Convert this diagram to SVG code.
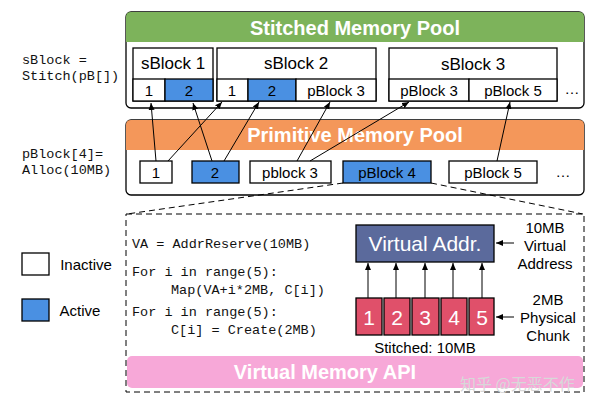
<svg xmlns="http://www.w3.org/2000/svg" width="602" height="409" viewBox="0 0 602 409">
<style>
.s{font-family:"Liberation Sans",Arial,sans-serif;font-size:15px;fill:#000;text-anchor:middle}
.big{font-size:17px}
.m{font-family:"Liberation Mono","Courier New",monospace;font-size:13.5px;fill:#111}
.h{font-family:"Liberation Sans",Arial,sans-serif;font-size:20px;font-weight:bold;fill:#fff;text-anchor:middle}
.w{fill:#fff;stroke:#000;stroke-width:1.3}
.b{fill:#4a90e2;stroke:#000;stroke-width:1.3}
.r{fill:#e0506a;stroke:#000;stroke-width:1.3}
.c{stroke:#000;stroke-width:1;fill:none;marker-end:url(#a)}
.n{font-family:"Liberation Sans",Arial,sans-serif;font-size:21px;fill:#fff;text-anchor:middle}
</style>
<defs><marker id="a" markerWidth="8" markerHeight="8" refX="7" refY="4" orient="auto" markerUnits="userSpaceOnUse"><path d="M0,1 L7,4 L0,7z" fill="#000"/></marker></defs>
<rect width="602" height="409" fill="#fff"/>
<g id="labels">
<text class="m" x="22" y="64">sBlock =</text>
<text class="m" x="22" y="80">Stitch(pB[])</text>
<text class="m" x="22" y="158">pBlock[4]=</text>
<text class="m" x="22" y="174">Alloc(10MB)</text>
</g>
<g id="legend">
<rect class="w" x="22" y="253" width="27" height="22"/>
<text class="s" x="86" y="270">Inactive</text>
<rect class="b" x="22" y="299" width="27" height="22"/>
<text class="s" x="80" y="316">Active</text>
</g>
<g id="stitched-pool">
<rect x="126" y="12" width="458" height="96" rx="5" fill="#fff" stroke="#000" stroke-width="1.3"/>
<path d="M131,12 H579 Q584,12 584,17 V42 H126 V17 Q126,12 131,12z" fill="#7db35b"/>
<text class="h" x="355" y="35">Stitched Memory Pool</text>
</g>
<g id="sblock1">
<rect class="w" x="133" y="48" width="80" height="53"/>
<text class="s big" x="173" y="69">sBlock 1</text>
<rect class="w" x="133" y="79" width="32" height="22"/><text class="s" x="149" y="96">1</text>
<rect class="b" x="165" y="79" width="48" height="22"/><text class="s" x="189" y="96">2</text>
</g>
<g id="sblock2">
<rect class="w" x="217" y="48" width="159" height="53"/>
<text class="s big" x="296" y="69">sBlock 2</text>
<rect class="w" x="217" y="79" width="31" height="22"/><text class="s" x="232" y="96">1</text>
<rect class="b" x="248" y="79" width="48" height="22"/><text class="s" x="272" y="96">2</text>
<rect class="w" x="296" y="79" width="80" height="22"/><text class="s" x="336" y="96">pBlock 3</text>
</g>
<g id="sblock3">
<rect class="w" x="389" y="48" width="168" height="53"/>
<text class="s big" x="473" y="70">sBlock 3</text>
<rect class="w" x="389" y="79" width="80" height="22"/><text class="s" x="429" y="96">pBlock 3</text>
<rect class="w" x="469" y="79" width="88" height="22"/><text class="s" x="513" y="96">pBlock 5</text>
<text class="s" x="572" y="94">…</text>
</g>
<g id="primitive-pool">
<rect x="126" y="120" width="458" height="75" rx="5" fill="#fff" stroke="#000" stroke-width="1.3"/>
<path d="M131,120 H579 Q584,120 584,125 V150 H126 V125 Q126,120 131,120z" fill="#f4975a"/>
<text class="h" x="355" y="142">Primitive Memory Pool</text>
<rect class="w" x="140" y="161" width="32" height="22"/><text class="s" x="156" y="178">1</text>
<rect class="b" x="192" y="161" width="47" height="22"/><text class="s" x="215" y="178">2</text>
<rect class="w" x="250" y="161" width="81" height="22"/><text class="s" x="290" y="178">pblock 3</text>
<rect class="b" x="343" y="161" width="88" height="22"/><text class="s" x="387" y="178">pBlock 4</text>
<rect class="w" x="449" y="161" width="88" height="22"/><text class="s" x="493" y="178">pBlock 5</text>
<text class="s" x="563" y="177">…</text>
</g>
<g id="connectors">
<path class="c" d="M156,161 L151,103"/>
<path class="c" d="M168,161 L222,102"/>
<path class="c" d="M212,161 L193,103"/>
<path class="c" d="M224,161 L259,102"/>
<path class="c" d="M297,161 L330,102"/>
<path class="c" d="M310,161 L409,102"/>
<path class="c" d="M497,161 L510,102"/>
<path d="M343,183 L127,214 M431,183 L583,214" stroke="#000" stroke-width="1" stroke-dasharray="6,4" fill="none"/>
<path class="c" d="M368,298 V263"/>
<path class="c" d="M396,298 V263"/>
<path class="c" d="M425,298 V263"/>
<path class="c" d="M453,298 V263"/>
<path class="c" d="M482,298 V263"/>
<path class="c" d="M514,243 H496"/>
<path class="c" d="M514,317 H496"/>
</g>
<g id="vm-api">
<rect x="126" y="214" width="458" height="178" fill="none" stroke="#000" stroke-width="1" stroke-dasharray="6,4"/>
<rect x="127" y="356" width="456" height="32" rx="5" fill="#f7a8d8"/>
<text class="h" x="325" y="379">Virtual Memory API</text>
<text class="m" x="132" y="248">VA = AddrReserve(10MB)</text>
<text class="m" x="132" y="276">For i in range(5):</text>
<text class="m" x="171" y="294">Map(VA+i*2MB, C[i])</text>
<text class="m" x="132" y="316">For i in range(5):</text>
<text class="m" x="171" y="334">C[i] = Create(2MB)</text>
</g>
<g id="virtual-addr">
<rect x="356" y="225" width="138" height="37" fill="#5b6a9c" stroke="#000" stroke-width="1.3"/>
<text class="n" x="425" y="251">Virtual Addr.</text>
<text class="s" x="545" y="233">10MB</text>
<text class="s" x="545" y="251">Virtual</text>
<text class="s" x="545" y="269">Address</text>
</g>
<g id="chunks">
<rect class="r" x="356" y="298" width="26" height="37"/><text class="n" x="369" y="325">1</text>
<rect class="r" x="384" y="298" width="26" height="37"/><text class="n" x="397" y="325">2</text>
<rect class="r" x="412" y="298" width="27" height="37"/><text class="n" x="425" y="325">3</text>
<rect class="r" x="441" y="298" width="26" height="37"/><text class="n" x="454" y="325">4</text>
<rect class="r" x="469" y="298" width="25" height="37"/><text class="n" x="482" y="325">5</text>
<text class="s" x="425" y="353">Stitched: 10MB</text>
<text class="s" x="548" y="305">2MB</text>
<text class="s" x="548" y="323">Physical</text>
<text class="s" x="548" y="341">Chunk</text>
</g>
<text x="460" y="390" font-family="'Noto Sans CJK SC',sans-serif" font-size="16" fill="#d8d8d8">知乎 @无恶不作</text>
</svg>
